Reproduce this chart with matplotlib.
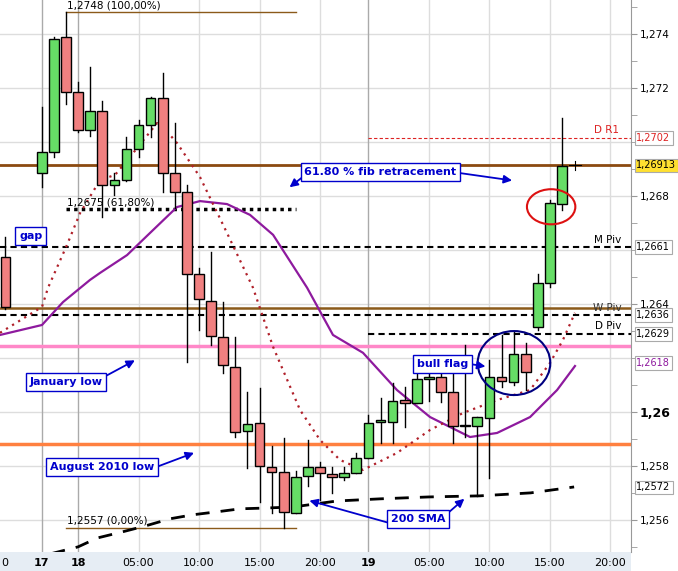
import matplotlib
matplotlib.use("Agg")
import matplotlib.pyplot as plt
from matplotlib.patches import Rectangle, Ellipse
from matplotlib.ticker import FixedLocator, MultipleLocator

# ---------------- data ----------------
bar_idx = [-6, -3, -2, -1, 0, 1, 2, 3, 4, 5, 6, 7, 8, 9, 10, 11, 12, 13, 14, 15, 16, 17, 18, 19, 20,
           21, 22, 23, 24, 25, 26, 27, 28, 29, 30, 31, 32, 33, 34, 35, 36, 37, 38, 39, 40]
opens = [1.26574, 1.26885, 1.26963, 1.27389, 1.27185, 1.27044, 1.27115, 1.26841, 1.26859, 1.26974, 1.27063,
         1.27163, 1.26885, 1.26815, 1.26511, 1.26411, 1.26278, 1.26167, 1.25930, 1.25959, 1.25796, 1.25778,
         1.25626, 1.25763, 1.25796, 1.25770, 1.25760, 1.25774, 1.25830, 1.25963, 1.25963, 1.26044, 1.26033,
         1.26122, 1.26130, 1.26074, 1.25948, 1.25948, 1.25978, 1.26130, 1.26111, 1.26215, 1.26315, 1.26478, 1.26770]
highs = [1.26648, 1.27130, 1.27390, 1.27480, 1.27222, 1.27278, 1.27152, 1.26885, 1.27019, 1.27081, 1.27167,
         1.27256, 1.27070, 1.26841, 1.26533, 1.26593, 1.26407, 1.26278, 1.26074, 1.26089, 1.25874, 1.25904,
         1.25781, 1.25896, 1.25815, 1.25796, 1.25796, 1.25848, 1.25989, 1.26052, 1.26107, 1.26093, 1.26156,
         1.26152, 1.26144, 1.26144, 1.26248, 1.25981, 1.26193, 1.26285, 1.26296, 1.26256, 1.26511, 1.26785, 1.27089]
lows = [1.26380, 1.26833, 1.26944, 1.27141, 1.27037, 1.27022, 1.26722, 1.26804, 1.26856, 1.26944, 1.27019,
        1.26815, 1.26756, 1.26185, 1.26304, 1.26248, 1.26144, 1.25907, 1.25793, 1.25667, 1.25626, 1.25570,
        1.25626, 1.25726, 1.25674, 1.25700, 1.25748, 1.25774, 1.25830, 1.25885, 1.25885, 1.25944, 1.26033,
        1.26041, 1.26037, 1.25885, 1.25907, 1.25689, 1.25756, 1.26093, 1.26100, 1.26081, 1.26304, 1.26463, 1.26748]
closes = [1.26389, 1.26963, 1.27381, 1.27185, 1.27044, 1.27115, 1.26841, 1.26859, 1.26974, 1.27063, 1.27163,
          1.26885, 1.26815, 1.26511, 1.26419, 1.26281, 1.26174, 1.25926, 1.25956, 1.25800, 1.25778, 1.25630,
          1.25760, 1.25796, 1.25774, 1.25760, 1.25774, 1.25830, 1.25959, 1.25970, 1.26041, 1.26033, 1.26122,
          1.26130, 1.26074, 1.25948, 1.25948, 1.25981, 1.26130, 1.26115, 1.26215, 1.26148, 1.26478, 1.26774, 1.26911]

sma200_x = [-4.0, -2.3, 0.0, 1.6, 3.7, 5.6, 7.6, 9.5, 11.5, 13.4, 15.6, 17.8, 21.4, 25.0, 29.0, 33.2, 37.4, 41.0]
sma200_y = [1.25430, 1.25474, 1.25500, 1.25533, 1.25556, 1.25578, 1.25604, 1.25619, 1.25630, 1.25641, 1.25644,
            1.25648, 1.25670, 1.25678, 1.25685, 1.25689, 1.25700, 1.25722]

sma_x = [-6.45, -2.98, -1.24, 0.99, 1.82, 4.05, 5.95, 8.18, 10.08, 12.31, 14.21, 16.12, 18.93, 21.07, 23.55,
         26.36, 29.09, 32.4, 34.63, 37.36, 39.59, 41.07]
sma_y = [1.26285, 1.26322, 1.26407, 1.26489, 1.26515, 1.26581, 1.26663, 1.26759, 1.26781, 1.26770, 1.26730,
         1.26656, 1.26460, 1.26285, 1.26219, 1.26081, 1.25981, 1.25907, 1.25922, 1.25981, 1.26081, 1.26170]

ema_x = [-6.45, -2.98, -2.48, -0.91, 0.17, 1.82, 3.06, 4.55, 6.53, 7.02, 8.18, 10.08, 12.31, 14.46, 16.12,
         18.35, 20.0, 21.65, 23.55, 26.36, 29.09, 31.82, 34.63, 37.36, 39.0, 40.08, 41.07]
ema_y = [1.26293, 1.26389, 1.26460, 1.26619, 1.26737, 1.26859, 1.26878, 1.26959, 1.27070, 1.27056, 1.26996,
         1.26870, 1.26663, 1.26460, 1.26241, 1.26007, 1.25896, 1.25822, 1.25785, 1.25848, 1.25933, 1.25996,
         1.26044, 1.26081, 1.26181, 1.26267, 1.26367]

fib_high, fib_618, fib_low = 1.2748, 1.2675, 1.2557
current = 1.26913
m_piv, w_piv, w_dash, d_piv, d_r1 = 1.2661, 1.26385, 1.2636, 1.2629, 1.27015
jan_low, aug_low = 1.26244, 1.25881

xtick_pos = [-3, 0, 5, 10, 15, 20, 24, 29, 34, 39, 44]
xtick_lab = ["17", "18", "05:00", "10:00", "15:00", "20:00", "19", "05:00", "10:00", "15:00", "20:00"]
ytick_pos = [1.256, 1.258, 1.260, 1.264, 1.268, 1.272, 1.274]
ytick_lab = ["1,256", "1,258", "1,26", "1,264", "1,268", "1,272", "1,274"]

# ---------------- figure ----------------
fig = plt.figure(figsize=(6.78, 5.71), dpi=100)
fig.patch.set_facecolor("white")
ax = fig.add_axes([0, 19 / 571, 631 / 678, 552 / 571])
xmin, xmax = -6.45, 45.7
ymin, ymax = 1.25481, 1.27526
ax.set_xlim(xmin, xmax)
ax.set_ylim(ymin, ymax)

# grid
for v in [1.256, 1.258, 1.260, 1.262, 1.264, 1.266, 1.268, 1.270, 1.272, 1.274]:
    ax.axhline(v, color="#dddddd", lw=1, zorder=0)
for v in xtick_pos:
    c = "#aaaaaa" if v in (-3, 0, 24) else "#dddddd"
    ax.axvline(v, color=c, lw=1, zorder=0)

# horizontal levels
ax.axhline(jan_low, color="#ff88c8", lw=2.5, zorder=1)
ax.axhline(aug_low, color="#ff8040", lw=2.5, zorder=1)
ax.axhline(current, color="#8b4a10", lw=2, zorder=1)
ax.axhline(w_piv, color="#8b5a1a", lw=1.8, zorder=1)
ax.axhline(w_dash, color="black", lw=1.5, ls=(0, (3, 2)), zorder=1)
ax.axhline(m_piv, color="black", lw=1.5, ls=(0, (3, 2)), zorder=1)
ax.plot([24, xmax], [d_piv, d_piv], color="black", lw=1.5, ls=(0, (3, 2)), zorder=1)
ax.plot([24, xmax], [d_r1, d_r1], color="#dd2222", lw=0.8, ls=(0, (3, 2)), zorder=1)

# fib
ax.plot([-1, 18], [fib_high, fib_high], color="#8b5a1a", lw=1)
ax.plot([-1, 18], [fib_low, fib_low], color="#8b5a1a", lw=1)
ax.plot([-1, 18], [fib_618, fib_618], color="black", lw=2.5, ls=(0, (1, 1.2)))
ax.text(-0.9, fib_high + 0.00008, "1,2748 (100,00%)", fontsize=7.5, va="bottom")
ax.text(-0.9, fib_618 + 0.00008, "1,2675 (61,80%)", fontsize=7.5, va="bottom")
ax.text(-0.9, fib_low + 0.00008, "1,2557 (0,00%)", fontsize=7.5, va="bottom")

# indicators
ax.plot(sma200_x, sma200_y, color="black", lw=2, ls=(0, (5, 4)), zorder=2)
ax.plot(sma_x, sma_y, color="#8e1a9e", lw=1.6, zorder=2)
ax.plot(ema_x, ema_y, color="#b0202a", lw=1.6, ls=(0, (1, 2.2)), zorder=2)

# candles
w = 0.8
for i, o, h, l, c in zip(bar_idx, opens, highs, lows, closes):
    col = "#66dd66" if c >= o else "#f08080"
    ax.plot([i, i], [l, h], color="black", lw=1, zorder=3)
    lo, hi = min(o, c), max(o, c)
    ax.add_patch(Rectangle((i - w / 2, lo), w, max(hi - lo, 0.00003), facecolor=col,
                           edgecolor="black", lw=1, zorder=4))
ax.plot([bar_idx[-1] + 0.6, bar_idx[-1] + 1.6], [current, current], color="black", lw=0.8, zorder=5)
ax.plot([bar_idx[-1] + 1.1] * 2, [current - 0.00015, current + 0.00015], color="black", lw=0.8, zorder=5)

# level names
ax.text(44.7, d_r1 + 0.0001, "D R1", color="#dd2222", fontsize=7.5, ha="right", va="bottom")
ax.text(44.9, m_piv + 0.0001, "M Piv", fontsize=7.5, ha="right", va="bottom")
ax.text(44.9, w_piv, "W Piv", fontsize=7.5, ha="right", va="center", color="#333333")
ax.text(44.9, d_piv + 0.0001, "D Piv", fontsize=7.5, ha="right", va="bottom")

# annotations
blue = "#0000cc"
box = dict(boxstyle="square,pad=0.35", fc="white", ec=blue, lw=1)
def note(txt, xy, arrows):
    ax.text(xy[0], xy[1], txt, color=blue, fontsize=8, fontweight="bold", ha="center", va="center",
            bbox=box, zorder=8)
    for a, b in arrows:
        ax.annotate("", xy=b, xytext=a, arrowprops=dict(arrowstyle="-|>", color=blue, lw=1.3,
                                                         mutation_scale=12), zorder=7)

note("gap", (-3.9, 1.26652), [])
note("61.80 % fib retracement", (25.0, 1.26889), [((19.1, 1.26889), (17.3, 1.26826)),
                                                  ((30.9, 1.26889), (36.1, 1.26856))])
note("January low", (-1.0, 1.26111), [((2.0, 1.26126), (4.9, 1.26196))])
note("August 2010 low", (2.0, 1.25796), [((6.3, 1.25793), (9.8, 1.25852))])
note("bull flag", (30.1, 1.26178), [((32.3, 1.26178), (33.9, 1.26167))])
note("200 SMA", (28.1, 1.25604), [((26.0, 1.25585), (18.9, 1.25674)),
                                  ((30.1, 1.25607), (32.1, 1.25685))])
ax.add_patch(Ellipse((36.03, 1.26181), 6.0, 0.00237, fill=False, ec="#000080", lw=1.5, zorder=6))
ax.add_patch(Ellipse((39.1, 1.2676), 4.0, 0.0013, fill=False, ec="#dd1111", lw=1.5, zorder=6))

# axes styling
for s in ["top", "left", "bottom"]:
    ax.spines[s].set_visible(False)
ax.spines["right"].set_color("#999999")
ax.yaxis.tick_right()
ax.yaxis.set_major_locator(FixedLocator(ytick_pos))
ax.set_yticklabels(ytick_lab)
ax.yaxis.set_minor_locator(MultipleLocator(0.001))
ax.tick_params(axis="y", which="both", direction="out", length=4, color="#999999", labelsize=7.5, pad=2)
for t in ax.get_yticklabels():
    if t.get_text() == "1,26":
        t.set_fontweight("bold")
        t.set_fontsize(9)
ax.set_xticks(xtick_pos)
ax.set_xticklabels(xtick_lab)
ax.tick_params(axis="x", length=0, labelsize=8, pad=4)
for t in ax.get_xticklabels():
    if t.get_text() in ("17", "18", "19"):
        t.set_fontweight("bold")

# bottom band
fig.patches.append(Rectangle((0, 0), 631 / 678, 19 / 571, transform=fig.transFigure,
                             facecolor="#e6edf4", edgecolor="none", zorder=-1))
fig.text(1 / 678, 8 / 571, "0", ha="left", va="center", fontsize=8)

# right value boxes
def vbox(v, txt, color="black", fc="white"):
    ax.text(xmax + 0.45, v, txt, color=color, fontsize=7, ha="left", va="center",
            bbox=dict(boxstyle="square,pad=0.2", fc=fc, ec="#aaaaaa", lw=0.8), zorder=9, clip_on=False)
vbox(d_r1, "1,2702", color="#dd2222")
vbox(current, "1,26913", fc="#ffe030")
vbox(m_piv, "1,2661")
vbox(w_dash, "1,2636")
vbox(d_piv, "1,2629")
vbox(1.2618, "1,2618", color="#8e1a9e")
vbox(1.2572, "1,2572")

fig.savefig("out.png", dpi=100)
